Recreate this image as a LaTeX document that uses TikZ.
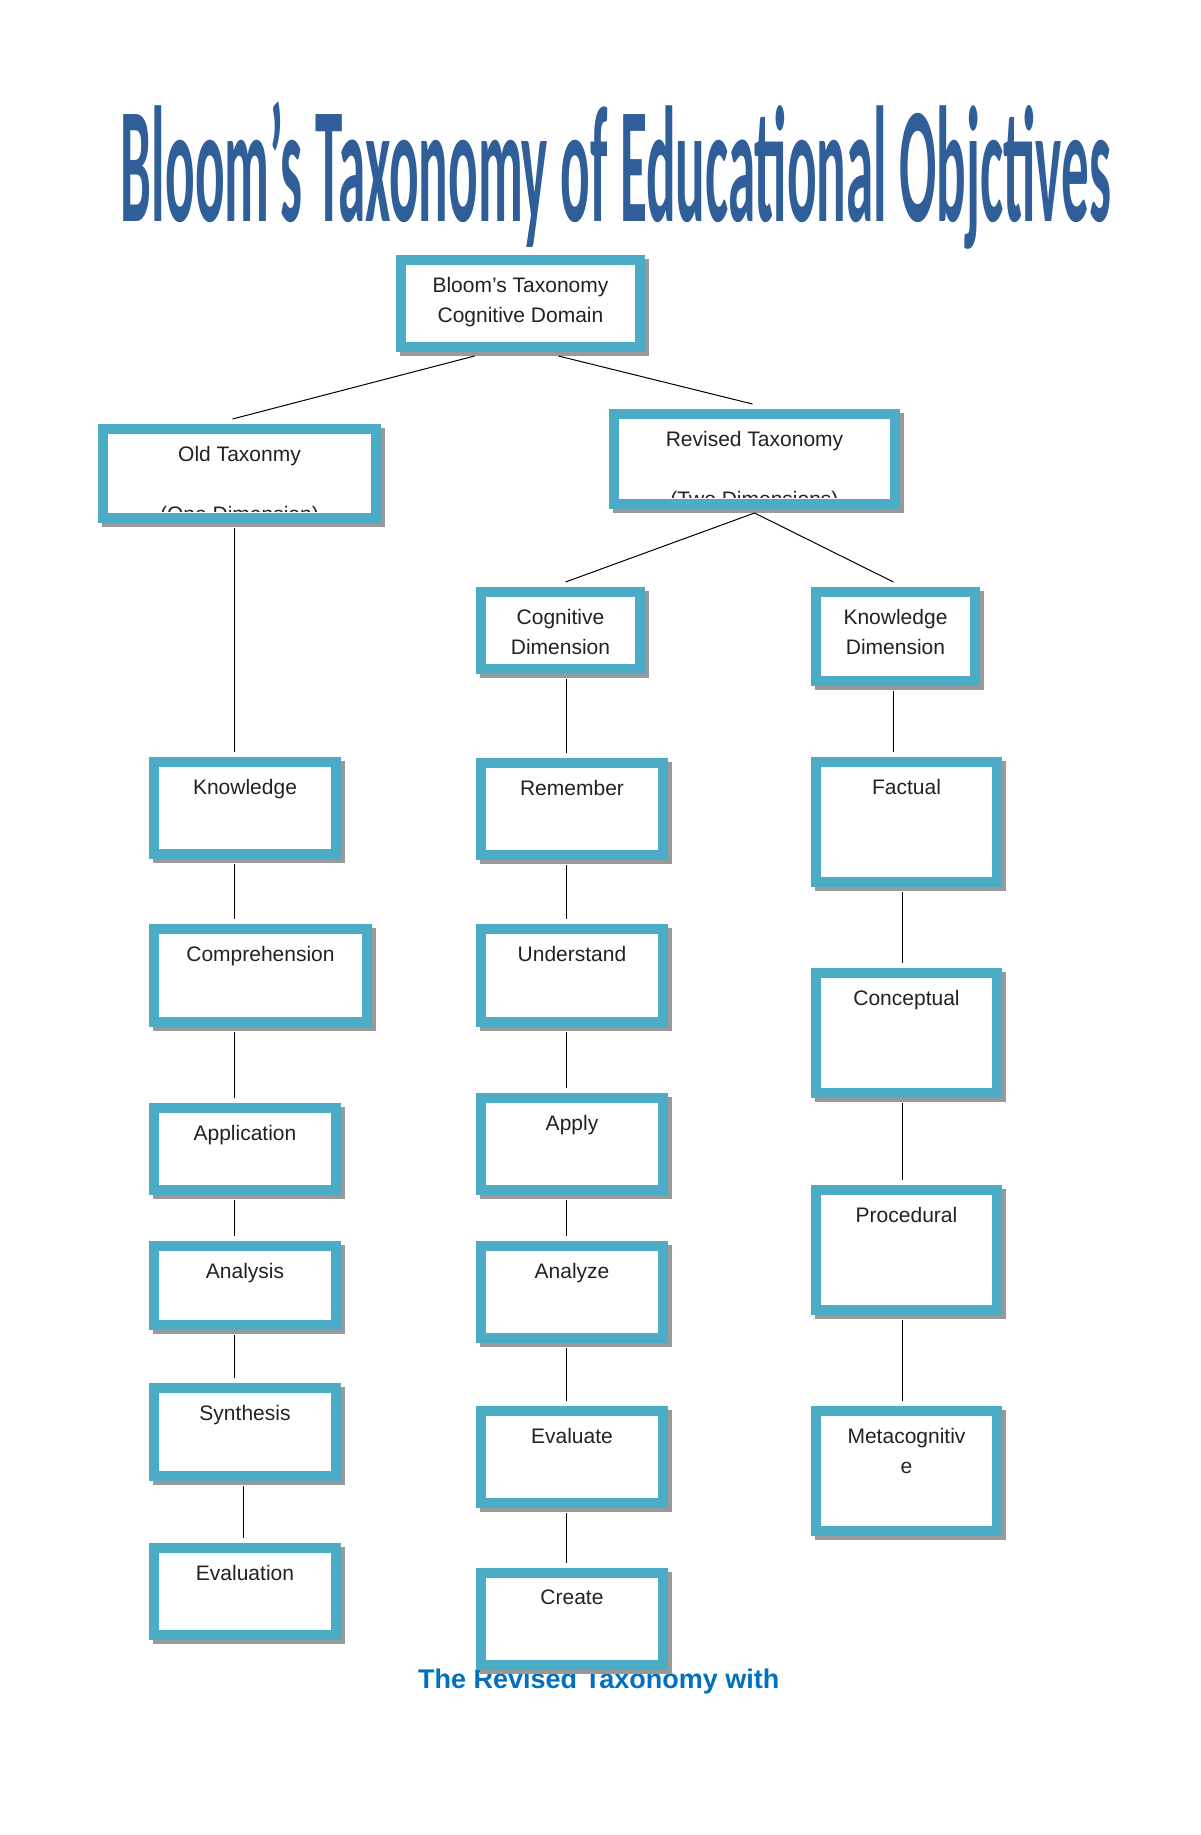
\documentclass[tikz,border=0pt]{standalone}
\usepackage{fontspec}
\setmainfont{Liberation Sans}
\newfontfamily\titlefont{Carlito}
\definecolor{boxc}{HTML}{4BACC6}
\definecolor{titlec}{HTML}{2F5E98}
\definecolor{capc}{HTML}{0070C0}
\definecolor{txtc}{HTML}{222222}
\tikzset{
  boxnode/.style={draw=boxc, line width=10pt, fill=white, inner sep=0pt},
  txtnode/.style={text=txtc, font=\fontsize{21}{30}\selectfont, align=center, anchor=north, inner sep=0pt},
  conn/.style={draw=black, line width=1pt},
  shadowc/.style={fill=gray!80}
}
\newcommand\bx[6]{%
  \fill[shadowc] ({#2+4},{#3+4}) rectangle ({#4+4},{#5+4});
  \node[boxnode, minimum width={#4-#2-10}, minimum height={#5-#3-10}] (#1) at ({(#2+#4)/2},{(#3+#5)/2}) {};
  \begin{scope}
    \clip ({#2+10},{#3+10}) rectangle ({#4-10},{#5-12});
    \node[txtnode] (#1t) at ({(#2+#4)/2},{#3+22}) {#6};
  \end{scope}}
\begin{document}
\begin{tikzpicture}[x=1pt,y=-1pt]
\useasboundingbox[fill=white] (0,0) rectangle (1200,1835);
\node[anchor=base, inner sep=0pt, text=titlec] (title) at (616,222)
  {\resizebox{990pt}{120pt}{\titlefont\bfseries Bloom’s Taxonomy of Educational Objctives}};
\node[anchor=base west, inner sep=0pt, text=capc, font=\fontsize{27}{30}\selectfont\bfseries] (cap) at (418,1688) {The Revised Taxonomy with};
\coordinate (L) at (234,0);
\coordinate (L2) at (243,0);
\coordinate (M) at (566,0);
\coordinate (R1) at (893,0);
\coordinate (R2) at (902,0);
\bx{top}{396}{255}{645}{352}{Bloom's Taxonomy\\Cognitive Domain}
\bx{old}{98}{424}{381}{523}{Old Taxonmy\\[30pt](One Dimension)}
\bx{rev}{609}{409}{900}{509}{Revised Taxonomy\\[30pt](Two Dimensions)}
\bx{cog}{476}{587}{645}{674}{Cognitive\\Dimension}
\bx{kd}{811}{587}{980}{686}{Knowledge\\Dimension}
\bx{kn}{149}{757}{341}{859}{Knowledge}
\bx{comp}{149}{924}{372}{1027}{Comprehension}
\bx{appl}{149}{1103}{341}{1195}{Application}
\bx{anal}{149}{1241}{341}{1330}{Analysis}
\bx{syn}{149}{1383}{341}{1481}{Synthesis}
\bx{eval}{149}{1543}{341}{1640}{Evaluation}
\bx{rem}{476}{758}{668}{860}{Remember}
\bx{und}{476}{924}{668}{1027}{Understand}
\bx{app}{476}{1093}{668}{1195}{Apply}
\bx{ana}{476}{1241}{668}{1343}{Analyze}
\bx{evl}{476}{1406}{668}{1508}{Evaluate}
\bx{cre}{476}{1568}{668}{1670}{Create}
\bx{fac}{811}{757}{1002}{887}{Factual}
\bx{con}{811}{968}{1002}{1098}{Conceptual}
\bx{pro}{811}{1185}{1002}{1315}{Procedural}
\bx{met}{811}{1406}{1002}{1536}{Metacognitiv\\e}
\draw[conn] ([xshift=-46pt,yshift=-4pt]top.south) -- ([xshift=-7pt,yshift=5pt]old.north);
\draw[conn] ([xshift=38pt,yshift=-4pt]top.south) -- ([xshift=-2pt,yshift=5pt]rev.north);
\draw[conn] ([yshift=-4pt]rev.south) -- ([xshift=5pt,yshift=5pt]cog.north);
\draw[conn] ([yshift=-4pt]rev.south) -- ([xshift=-2pt,yshift=5pt]kd.north);
\draw[conn] ([yshift=-5pt]old.south -| L) -- ([yshift=5pt]kn.north -| L);
\draw[conn] ([yshift=-5pt]kn.south -| L) -- ([yshift=5pt]comp.north -| L);
\draw[conn] ([yshift=-5pt]comp.south -| L) -- ([yshift=5pt]appl.north -| L);
\draw[conn] ([yshift=-5pt]appl.south -| L) -- ([yshift=5pt]anal.north -| L);
\draw[conn] ([yshift=-5pt]anal.south -| L) -- ([yshift=5pt]syn.north -| L);
\draw[conn] ([yshift=-5pt]syn.south -| L2) -- ([yshift=5pt]eval.north -| L2);
\draw[conn] ([yshift=-5pt]cog.south -| M) -- ([yshift=5pt]rem.north -| M);
\draw[conn] ([yshift=-5pt]rem.south -| M) -- ([yshift=5pt]und.north -| M);
\draw[conn] ([yshift=-5pt]und.south -| M) -- ([yshift=5pt]app.north -| M);
\draw[conn] ([yshift=-5pt]app.south -| M) -- ([yshift=5pt]ana.north -| M);
\draw[conn] ([yshift=-5pt]ana.south -| M) -- ([yshift=5pt]evl.north -| M);
\draw[conn] ([yshift=-5pt]evl.south -| M) -- ([yshift=5pt]cre.north -| M);
\draw[conn] ([yshift=-5pt]kd.south -| R1) -- ([yshift=5pt]fac.north -| R1);
\draw[conn] ([yshift=-5pt]fac.south -| R2) -- ([yshift=5pt]con.north -| R2);
\draw[conn] ([yshift=-5pt]con.south -| R2) -- ([yshift=5pt]pro.north -| R2);
\draw[conn] ([yshift=-5pt]pro.south -| R2) -- ([yshift=5pt]met.north -| R2);
\end{tikzpicture}
\end{document}
